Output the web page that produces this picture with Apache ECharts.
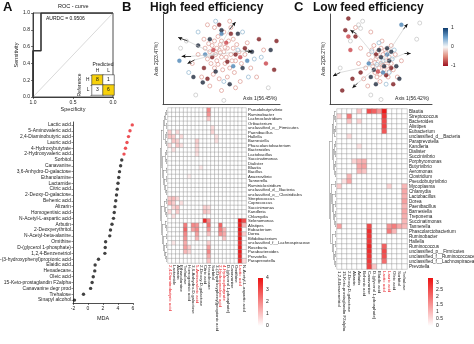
<!DOCTYPE html>
<html><head><meta charset="utf-8">
<script src="https://cdn.jsdelivr.net/npm/echarts@6/dist/echarts.min.js"></script>
<style>html,body{margin:0;padding:0;background:#fff}#c{width:474px;height:344px}</style>
</head><body><div id="c"></div>
<script>
const FONT = 'Liberation Sans, Arial, sans-serif';

// ---------- Panel A : ROC ----------
const rocSpecificity = [1.0, 1.0, 0.9, 0.9, 0.0];
const rocSensitivity = [0.0, 0.55, 0.55, 1.0, 1.0];
const diagSpecificity = [1.0, 0.0];
const diagSensitivity = [0.0, 1.0];
const cmLabels = ['H', 'L'];
const cmValues = [[8, 1], [3, 6]]; // rows: reference, cols: predicted

// ---------- Panel A : MDA ----------
const metabolites = ['Lactic acid','5-Aminovaleric acid','2,4-Diaminobutyric acid','Lauric acid','4-Hydroxybutyrate','2-Hydroxyvaleric acid','Sorbitol','Canavanine','3,6-Anhydro-D-galactose','Ethanolamine','Lactamide','Citric acid','2-Deoxy-D-galactose','Behenic acid','Alizarin','Homogentisic acid','N-Acetyl-L-aspartic acid','Arbutin','2-Deoxyerythritol','N-Acetyl-beta-alanine','Ornithine','D-(glycerol 1-phosphate)','1,2,4-Benzenetriol','3-(3-hydroxyphenyl)propionic acid','Elaidic acid','Hexadecane','Oleic acid','15-Keto-prostaglandin F2alpha','Canavanine degr prod','Trehalose','Sinapyl alcohol'];
const mdaValues = [5.9,5.6,5.4,5.2,5.0,4.8,4.5,4.35,4.2,4.1,4.0,3.9,3.8,3.7,3.6,3.5,3.4,3.2,3.0,2.9,2.35,2.3,2.25,1.4,0.95,0.9,0.7,0.55,0.35,-0.6,-1.8];
const mdaRedCount = 6;
const mdaTicks = { min: -2, max: 6, interval: 2 };

// ---------- Panel B : PCoA ----------
const bHollowRed = [[45,55],[48,60],[50,52],[52,58],[46,48],[55,62],[42,65],[50,70],[53,45],[58,55],[60,62],[44,40],[40,58],[47,75],[56,70],[62,48],[38,50],[51,38],[57,40],[43,33],[65,58],[49,66],[54,52],[46,62],[60,72],[36,62],[63,66],[41,45],[52,80],[58,85],[35,72],[67,45],[70,55],[48,28],[55,30],[30,55],[44,85],[61,35],[72,68],[40,20],[66,25],[75,40],[50,15],[80,30],[25,45],[86,60],[33,30],[62,18],[57,92],[38,88],[47,44],[53,63],[39,67],[59,48],[44,70],[49,57]];
const bHollowBlue = [[78,50],[22,35],[68,80],[30,80],[84,52],[52,25],[73,30],[45,92],[64,60]];
const bHollowGrey = [[28,10],[52,4],[20,70],[90,18],[15,62]];
const bFilledDarkRed = [[55,47],[62,55],[42,52],[70,62],[35,40],[58,78],[95,38],[38,28],[82,72],[48,88],[97,70]];
const bFilledDark = [[45,36],[64,78],[76,58],[30,65],[40,72],[92,60],[57,22],[34,24],[68,40],[26,30],[50,82]];
const bFilledBlue = [[60,42],[50,78],[72,48],[36,55],[14,48]];
const bFilledRed = [[66,52],[43,60],[54,68],[88,45]];
const bTaxaNames = ['Eubacterium','Dentrobacterium','Streptococcus','Lachnospira','Prevotella'];
const bTaxaLabelPos = [[74,92],[17,81],[15,59],[13,41],[86,58]];
const bArrowInner = [[57,83],[21,70],[24,53],[27,49],[70,59]];
const bArrowOuter = [[62,91],[13,74],[16,53],[21,45],[76,58]];
const bCenter = [45,55];

// ---------- Panel B : heatmap ----------
const bCols = ['2,4-Diaminobutyric acid','Lactamide','Alizarin','Ethanolamine','Trehalose','Homogentisic acid','3,6-Anhydro-D-galactose','5-Aminovaleric acid','2-Deoxy-D-galactose','Citric acid','Hexadecane','Sorbitol','3-(3-hydroxyphenyl)propionic acid','2-Hydroxyvaleric acid','4-Hydroxybutyrate','D-(glycerol 1-phosphate)','Canavanine','Ornithine','Lactic acid','N-Acetyl-L-aspartic acid'];
const bRedCols = ['2,4-Diaminobutyric acid','5-Aminovaleric acid','2-Hydroxyvaleric acid','4-Hydroxybutyrate','Lactic acid'];
const bRows = ['Pseudobutyrivibrio','Ruminobacter','Lachnoclostridium','Oribacterium','unclassified_o__Firmicutes','Paenibacillus','Hallella','Barnesiella','Phascolarctobacterium','Bacteroides','Lactobacillus','Succinatimonas','Dialister','Blautia','Bacillus','Anaerovibrio','Tannerella','Ruminiclostridium','unclassified_d__Bacteria','unclassified_o__Clostridiales','Streptococcus','Coprococcus','Succinimonas','Kandleria','Chlamydia','Selenomonas','Alistipes','Eubacterium','Dorea','Bifidobacterium','unclassified_f__Lachnospiraceae','Roseburia','Parabacteroides','Prevotella','Paraprevotella'];
const bHeatCells = [[10,0,2.0],[10,1,1.8],[10,2,0.9],[11,4,0.6],[11,5,0.7],[0,5,0.8],[2,5,0.6],[0,6,1.0],[1,6,0.8],[3,6,0.6],[12,6,0.5],[1,7,0.9],[2,7,0.7],[7,7,0.8],[12,7,0.5],[0,8,0.6],[2,8,0.9],[3,8,0.5],[7,8,0.7],[1,9,0.5],[7,9,0.6],[7,10,0.5],[8,13,0.4],[5,15,0.3],[0,20,0.9],[1,20,1.1],[2,20,0.6],[0,21,1.2],[1,21,0.8],[3,21,0.5],[1,22,0.7],[2,22,1.0],[9,22,0.8],[10,22,0.6],[0,23,0.6],[2,23,0.8],[9,23,1.0],[10,23,0.7],[1,24,0.5],[9,25,3.6],[10,25,2.0],[18,25,4.0],[19,25,3.0],[4,26,2.2],[6,26,2.0],[7,26,1.8],[10,26,2.4],[13,26,2.6],[18,26,3.8],[19,26,1.2],[4,27,2.6],[6,27,1.6],[7,27,2.0],[10,27,1.8],[13,27,2.2],[14,27,1.2],[18,27,4.0],[4,28,2.0],[7,28,1.6],[10,28,1.0],[13,28,1.8],[14,28,1.4],[18,28,3.6],[19,28,0.8],[4,29,1.8],[7,29,1.2],[14,29,1.0],[18,29,3.9],[4,30,1.4],[10,30,0.8],[18,30,3.5],[1,30,0.4],[4,31,1.6],[5,31,0.8],[10,31,1.6],[18,31,3.7],[4,32,1.2],[5,32,0.7],[10,32,2.0],[18,32,3.8],[10,33,1.4],[18,33,3.6],[10,34,1.0],[18,34,3.4],[19,34,0.6]];
const bTree = [[[[[[0,1],2],[3,4]],[[5,6],[7,8]]],[[[9,10],[11,12]],[[13,14],[[15,16],[17,[18,19]]]]]],[[[20,21],[22,[23,24]]],[[25,[26,27]],[[28,29],[[30,31],[32,[33,34]]]]]]];
const bScaleMax = 4, bScaleInterval = 1;

// ---------- Panel C : PCoA ----------
const cHollowRed = [[45,50],[50,45],[48,40],[52,55],[55,48],[42,42],[47,58],[53,38],[58,52],[44,35],[50,62],[56,42],[40,48],[60,45],[46,30],[54,60],[38,55],[62,38],[49,25],[57,30],[43,65],[35,40],[64,55],[51,70],[30,62],[33,28],[25,85],[40,80],[60,65],[28,45],[66,30],[37,20],[70,48],[46,53],[52,43],[58,36],[44,46],[55,57],[49,33],[41,60]];
const cHollowBlue = [[52,48],[46,44],[58,35],[41,58],[63,60],[55,22],[48,68],[61,50]];
const cHollowGrey = [[20,70],[10,40],[85,72],[88,90],[32,92],[50,5],[40,10],[28,88],[30,84]];
const cFilledDarkRed = [[15,82],[22,28],[30,35],[55,32],[45,55],[60,40],[25,75],[12,15],[62,22],[18,95]];
const cFilledDark = [[50,52],[58,48],[43,38],[53,42],[65,42],[48,60],[68,28],[40,30],[60,58],[45,22],[56,62]];
const cFilledBlue = [[70,88],[56,55],[52,35],[38,45]];
const cFilledRed = [[20,60],[18,75],[47,36]];
const cTaxaNames = ['Tannerella','Blautia','Catenibacterium','Streptococcus','Aeromonas'];
const cTaxaLabelPos = [[76,93],[12,86],[82,47],[9,40],[19,12]];
const cArrowInner = [[72,83],[26,78],[73,56],[10,35],[27,23]];
const cArrowOuter = [[76,89],[20,82],[79,56],[3,31],[22,18]];
const cCenter = [50,45];
const corrScale = { min: -1, max: 1, interval: 1 };

// ---------- Panel C : heatmap ----------
const cCols = ['1,2,4-Benzenetriol','15-Keto-prostaglandin F2alpha','2-Deoxy-D-galactose','Alizarin','Arbutin','Behenic acid','Canavanine','D-(glycerol 1-phosphate)','Elaidic acid','Lactic acid','Lauric acid','Oleic acid','Sorbitol','Trehalose'];
const cRedCols = ['Lactic acid','Lauric acid'];
const cRows = ['Blautia','Streptococcus','Bacteroides','Alistipes','Eubacterium','unclassified_d__Bacteria','Paraprevotella','Kandleria','Dialister','Succinivibrio','Porphyromonas','Butyrivibrio','Aeromonas','Clostridium','Pseudobutyrivibrio','Mycoplasma','Chlamydia','Lactobacillus','Dorea','Paenibacillus','Barnesiella','Treponema','Succinatimonas','Tannerella','Phascolarctobacterium','Ruminobacter','Hallella','Ruminococcus','unclassified_p__Firmicutes','unclassified_f__Ruminococcaceae','unclassified_f__Lachnospiraceae','Prevotella'];
const cHeatCells = [[4,0,0.8],[6,0,2.5],[7,0,2.2],[8,0,1.5],[9,0,3.2],[0,1,0.6],[2,1,1.8],[9,1,2.8],[2,2,0.8],[4,2,0.6],[9,2,2.5],[9,3,2.6],[9,4,2.3],[2,5,0.5],[4,7,0.4],[3,10,0.6],[4,10,1.0],[5,10,1.1],[4,11,1.2],[5,11,1.3],[4,12,1.0],[5,12,0.8],[2,13,1.0],[1,14,0.4],[2,14,1.2],[0,15,0.7],[10,15,0.6],[13,15,1.0],[13,16,1.2],[13,17,1.1],[13,18,1.3],[13,19,1.0],[13,20,1.2],[13,21,1.1],[13,22,1.0],[0,23,1.3],[6,23,2.5],[10,23,1.5],[11,23,1.8],[12,23,1.2],[13,23,1.0],[6,24,2.9],[10,24,1.8],[11,24,1.0],[6,25,2.8],[6,26,2.7],[6,27,3.0],[9,27,2.2],[6,28,2.9],[9,28,2.5],[6,29,2.8],[9,29,2.4],[6,30,2.7],[9,30,2.0],[6,31,2.6],[7,31,0.8]];
const cTree = [[[[0,[1,2]],[[3,4],5]],[[[6,7],[8,9]],[[10,11],[12,13]]]],[[[14,15],[[16,17],[[18,19],[[20,21],[22,23]]]]],[[24,25],[[26,27],[[28,29],[30,31]]]]]];
const cScaleMax = 3.3, cScaleInterval = 0.5;

// ================= build option =================
const grids = [], xAxes = [], yAxes = [], series = [], visualMaps = [];
const addGrid = g => { grids.push(Object.assign({ outerBoundsMode: 'none', containLabel: false }, g)); return grids.length - 1; };
const addX = a => { xAxes.push(a); return xAxes.length - 1; };
const addY = a => { yAxes.push(a); return yAxes.length - 1; };
const txt = (size, extra) => Object.assign({ fontSize: size, fontFamily: FONT, color: '#222' }, extra || {});
const blackLine = { show: true, onZero: false, lineStyle: { color: '#222', width: 0.8 } };
const noAxis = { axisLine: { show: false }, axisTick: { show: false }, axisLabel: { show: false }, splitLine: { show: false } };

function dendroSegments(tree) {
  const segs = [];
  function walk(node) {
    if (typeof node === 'number') return { y: node, h: 0 };
    const ch = node.map(walk);
    const h = 1 + Math.max(...ch.map(c => c.h));
    const ys = ch.map(c => c.y);
    const lo = Math.min(...ys), hi = Math.max(...ys);
    segs.push([[h, lo], [h, hi]]);
    ch.forEach(c => segs.push([[c.h, c.y], [h, c.y]]));
    return { y: (lo + hi) / 2, h };
  }
  const root = walk(tree);
  return { segs, height: root.h };
}
function fullMatrix(nc, nr, cells) {
  const m = {};
  cells.forEach(([c, r, v]) => { m[c + '_' + r] = v; });
  const out = [];
  for (let c = 0; c < nc; c++) for (let r = 0; r < nr; r++) out.push([c, r, m[c + '_' + r] || 0]);
  return out;
}

// ----- ROC -----
const gRoc = addGrid({ left: 33, top: 13, width: 80, height: 84, show: true, borderColor: '#222', borderWidth: 0.8 });
const xRoc = addX({ type: 'value', gridIndex: gRoc, min: 0, max: 1, interval: 0.5, inverse: true,
  name: 'Specificity', nameLocation: 'middle', nameGap: 9, nameTextStyle: txt(5.5),
  axisLine: blackLine, axisTick: { show: true, length: 2, lineStyle: { color: '#222', width: 0.6 } },
  axisLabel: Object.assign(txt(5), { margin: 3, formatter: v => v.toFixed(1) }), splitLine: { show: false } });
const yRoc = addY({ type: 'value', gridIndex: gRoc, min: 0, max: 1, interval: 0.2,
  name: 'Sensitivity', nameLocation: 'middle', nameGap: 13, nameTextStyle: txt(5.5),
  axisLine: blackLine, axisTick: { show: true, length: 2, lineStyle: { color: '#222', width: 0.6 } },
  axisLabel: Object.assign(txt(5), { margin: 3, formatter: v => v.toFixed(1) }), splitLine: { show: false } });
series.push({ type: 'line', xAxisIndex: xRoc, yAxisIndex: yRoc, symbol: 'none', silent: true,
  data: diagSpecificity.map((s, i) => [s, diagSensitivity[i]]), lineStyle: { color: '#cfcfcf', width: 0.8 } });
series.push({ type: 'line', xAxisIndex: xRoc, yAxisIndex: yRoc, symbol: 'none', silent: true,
  data: rocSpecificity.map((s, i) => [s, rocSensitivity[i]]), lineStyle: { color: '#333', width: 1.6 } });

// ----- confusion matrix -----
const gCm = addGrid({ left: 92, top: 75, width: 22, height: 20, show: true, backgroundColor: '#fff', borderWidth: 0 });
const xCm = addX({ type: 'category', gridIndex: gCm, data: cmLabels, position: 'top',
  name: 'Predicted', nameLocation: 'middle', nameGap: 7, nameTextStyle: txt(5),
  axisLine: { show: false }, axisTick: { show: false }, axisLabel: Object.assign(txt(4.8), { margin: 1.5 }) });
const yCm = addY({ type: 'category', gridIndex: gCm, data: cmLabels, inverse: true,
  name: 'Reference', nameLocation: 'middle', nameGap: 8, nameRotate: 90, nameTextStyle: txt(5),
  axisLine: { show: false }, axisTick: { show: true, length: 1.5, lineStyle: { color: '#222', width: 0.5 } },
  axisLabel: Object.assign(txt(4.8), { margin: 2.5 }) });
const cmData = [];
cmValues.forEach((row, r) => row.forEach((v, c) => cmData.push({ value: [c, r, v], itemStyle: { color: r === c ? '#f7d10b' : '#ffffff' } })));
series.push({ type: 'heatmap', xAxisIndex: xCm, yAxisIndex: yCm, data: cmData, silent: true,
  itemStyle: { borderColor: '#333', borderWidth: 0.6 },
  label: { show: true, fontSize: 5, fontFamily: FONT, color: '#111' } });

// ----- MDA dot plot -----
const gMda = addGrid({ left: 73, top: 122, width: 60, height: 181 });
const xMda = addX({ type: 'value', gridIndex: gMda, min: mdaTicks.min, max: mdaTicks.max, interval: mdaTicks.interval,
  name: 'MDA', nameLocation: 'middle', nameGap: 11, nameTextStyle: txt(5.5),
  axisLine: blackLine, axisTick: { show: true, length: 2, lineStyle: { color: '#222', width: 0.6 } },
  axisLabel: Object.assign(txt(5), { margin: 3 }), splitLine: { show: false } });
const yMda = addY({ type: 'category', gridIndex: gMda, data: metabolites, inverse: true,
  axisLine: blackLine, axisTick: { show: true, length: 1.5, alignWithLabel: true, lineStyle: { color: '#222', width: 0.5 } },
  axisLabel: Object.assign(txt(4.9), { margin: 2, interval: 0, hideOverlap: false }) });
series.push({ type: 'scatter', xAxisIndex: xMda, yAxisIndex: yMda, symbolSize: 3.4, silent: true,
  itemStyle: { color: '#111' }, data: metabolites.map((m, i) => [mdaValues[i], m]).slice(mdaRedCount) });
series.push({ type: 'scatter', xAxisIndex: xMda, yAxisIndex: yMda, symbolSize: 3.4, silent: true,
  itemStyle: { color: '#e8242b' }, data: metabolites.map((m, i) => [mdaValues[i], m]).slice(0, mdaRedCount) });

// ----- PCoA helper -----
function pcoa(left, width, xName, yName, groups, names, labelPos, inner, outer, center) {
  const g = addGrid({ left, top: 14, width, height: 90 });
  const xa = addX({ type: 'value', gridIndex: g, min: 0, max: 100, name: xName, nameLocation: 'end', nameGap: 0,
    nameTextStyle: txt(5, { align: 'right', verticalAlign: 'bottom', padding: [0, 3, 3, 0] }),
    axisLine: blackLine, axisTick: { show: false }, axisLabel: { show: false }, splitLine: { show: false } });
  const ya = addY({ type: 'value', gridIndex: g, min: 0, max: 100, name: yName, nameLocation: 'middle', nameGap: 4, nameRotate: 90,
    nameTextStyle: txt(5), axisLine: blackLine, axisTick: { show: false }, axisLabel: { show: false }, splitLine: { show: false } });
  series.push({ type: 'scatter', xAxisIndex: xa, yAxisIndex: ya, data: [], silent: true,
    markLine: { silent: true, animation: false, symbol: ['none', 'none'], label: { show: false },
      lineStyle: { color: '#c8c8c8', width: 0.6, type: 'solid' },
      data: inner.map(p => [{ coord: center }, { coord: p }]) } });
  groups.forEach(gr => series.push({ type: 'scatter', xAxisIndex: xa, yAxisIndex: ya, symbolSize: gr.size || 4, silent: true,
    data: gr.data, itemStyle: gr.style }));
  series.push({ type: 'scatter', xAxisIndex: xa, yAxisIndex: ya, symbolSize: 1, silent: true,
    itemStyle: { opacity: 0 },
    label: { show: true, position: 'inside', formatter: '{b}', fontSize: 5, fontFamily: FONT, color: '#222' },
    data: names.map((n, i) => ({ name: n, value: labelPos[i] })),
    markLine: { silent: true, animation: false, symbol: ['none', 'arrow'], symbolSize: [3, 4], label: { show: false },
      lineStyle: { color: '#111', width: 0.8, type: 'solid' },
      data: inner.map((p, i) => [{ coord: p }, { coord: outer[i] }]) } });
  return g;
}
const hollow = c => ({ color: '#ffffff', borderColor: c, borderWidth: 0.8 });
const filled = c => ({ color: c, borderColor: c, borderWidth: 0.4 });

pcoa(163, 117, 'Axis 1(56.45%)', 'Axis 2(23.47%)', [
  { data: bHollowRed, style: hollow('#d98f86') },
  { data: bHollowBlue, style: hollow('#86aecb') },
  { data: bHollowGrey, style: hollow('#bdbdbd') },
  { data: bFilledDarkRed, style: filled('#7d1c1f') },
  { data: bFilledDark, style: filled('#1f2a3d') },
  { data: bFilledBlue, style: filled('#4c84b5') },
  { data: bFilledRed, style: filled('#c9444a') }
], bTaxaNames, bTaxaLabelPos, bArrowInner, bArrowOuter, bCenter);

pcoa(330, 102, 'Axis 1(56.42%)', 'Axis 2(26.27%)', [
  { data: cHollowRed, style: hollow('#d98f86') },
  { data: cHollowBlue, style: hollow('#86aecb') },
  { data: cHollowGrey, style: hollow('#bdbdbd') },
  { data: cFilledDarkRed, style: filled('#7d1c1f') },
  { data: cFilledDark, style: filled('#1f2a3d') },
  { data: cFilledBlue, style: filled('#4c84b5') },
  { data: cFilledRed, style: filled('#c9444a') }
], cTaxaNames, cTaxaLabelPos, cArrowInner, cArrowOuter, cCenter);

// ----- heatmap helper -----
function heat(left, top, width, height, cols, redCols, rows, cells, tree, scaleMax, scaleInt, barLeft, rowFont) {
  const g = addGrid({ left, top, width, height });
  const xa = addX({ type: 'category', gridIndex: g, data: cols, position: 'bottom',
    axisLine: { show: false }, axisTick: { show: false }, splitLine: { show: false },
    axisLabel: { rotate: -90, fontSize: 4.4, fontFamily: FONT, margin: 2, interval: 0, hideOverlap: false,
      color: v => redCols.indexOf(v) >= 0 ? '#e8242b' : '#222' } });
  const ya = addY({ type: 'category', gridIndex: g, data: rows, inverse: true, position: 'right',
    axisLine: { show: false }, axisTick: { show: false }, splitLine: { show: false },
    axisLabel: Object.assign(txt(rowFont), { margin: 2, interval: 0, hideOverlap: false }) });
  const idx = series.length;
  series.push({ type: 'heatmap', xAxisIndex: xa, yAxisIndex: ya, silent: true, progressive: 0,
    data: fullMatrix(cols.length, rows.length, cells),
    itemStyle: { borderColor: '#8d8d8d', borderWidth: 0.4 } });
  visualMaps.push({ type: 'continuous', show: false, seriesIndex: idx, dimension: 2, min: 0, max: scaleMax,
    inRange: { color: ['#ffffff', '#ee1111'] } });
  const d = dendroSegments(tree);
  const gd = addGrid({ left: left - 8, top, width: 7, height });
  const xd = addX(Object.assign({ type: 'value', gridIndex: gd, min: 0, max: d.height, inverse: true }, noAxis));
  const yd = addY(Object.assign({ type: 'value', gridIndex: gd, min: -0.5, max: rows.length - 0.5, inverse: true }, noAxis));
  series.push({ type: 'lines', coordinateSystem: 'cartesian2d', xAxisIndex: xd, yAxisIndex: yd, silent: true,
    lineStyle: { color: '#7a7a7a', width: 0.5, opacity: 1 }, data: d.segs.map(s => ({ coords: s })) });
  const gb = addGrid({ left: barLeft, top: 278, width: 5, height: 48 });
  const xb = addX(Object.assign({ type: 'category', gridIndex: gb, data: [''] }, noAxis));
  const yb = addY({ type: 'value', gridIndex: gb, min: 0, max: scaleMax, interval: scaleInt, position: 'right',
    axisLine: { show: false }, axisTick: { show: false }, splitLine: { show: false },
    axisLabel: Object.assign(txt(5), { margin: 3 }) });
  series.push({ type: 'bar', xAxisIndex: xb, yAxisIndex: yb, silent: true, barWidth: '100%', data: [scaleMax],
    itemStyle: { color: { type: 'linear', x: 0, y: 0, x2: 0, y2: 1, colorStops: [{ offset: 0, color: '#ee1111' }, { offset: 1, color: '#ffffff' }] } } });
}
heat(168, 108, 78, 155, bCols, bRedCols, bRows, bHeatCells, bTree, bScaleMax, bScaleInterval, 258, 4.2);
heat(337, 109, 70, 160, cCols, cRedCols, cRows, cHeatCells, cTree, cScaleMax, cScaleInterval, 428, 4.6);

// ----- correlation colour bar (panel C scatter) -----
const gcb = addGrid({ left: 443, top: 28, width: 5, height: 38 });
const xcb = addX(Object.assign({ type: 'category', gridIndex: gcb, data: [''] }, noAxis));
const ycbBar = addY(Object.assign({ type: 'value', gridIndex: gcb, min: 0, max: corrScale.max - corrScale.min }, noAxis));
addY({ type: 'value', gridIndex: gcb, min: corrScale.min, max: corrScale.max, interval: corrScale.interval, position: 'right',
  axisLine: { show: false }, axisTick: { show: false }, splitLine: { show: false }, axisLabel: Object.assign(txt(5), { margin: 3 }) });
series.push({ type: 'bar', xAxisIndex: xcb, yAxisIndex: ycbBar, silent: true, barWidth: '100%', data: [corrScale.max - corrScale.min],
  itemStyle: { color: { type: 'linear', x: 0, y: 0, x2: 0, y2: 1, colorStops: [
    { offset: 0, color: '#0d3b6e' }, { offset: 0.25, color: '#6fa3cf' }, { offset: 0.5, color: '#f7f7f7' },
    { offset: 0.75, color: '#e08a7a' }, { offset: 1, color: '#9e1220' }] } } });

const T = (text, left, top, size, bold) => ({ text, left, top, padding: 0,
  textStyle: { fontSize: size, fontWeight: bold ? 'bold' : 'normal', fontFamily: FONT, color: '#111' } });

const option = {
  animation: false,
  backgroundColor: '#ffffff',
  textStyle: { fontFamily: FONT },
  title: [
    T('A', 3, 1, 13, true),
    T('ROC - curve', 58, 3, 5.5, false),
    T('AURDC = 0.9506', 46, 16, 5, false),
    T('B', 122, 1, 13, true),
    T('High feed efficiency', 150, 2, 12, true),
    T('C', 294, 1, 13, true),
    T('Low feed efficiency', 313, 2, 12, true)
  ],
  grid: grids, xAxis: xAxes, yAxis: yAxes, visualMap: visualMaps, series
};
const chart = echarts.init(document.getElementById('c'), null, { renderer: 'canvas' });
chart.setOption(option);
</script></body></html>
